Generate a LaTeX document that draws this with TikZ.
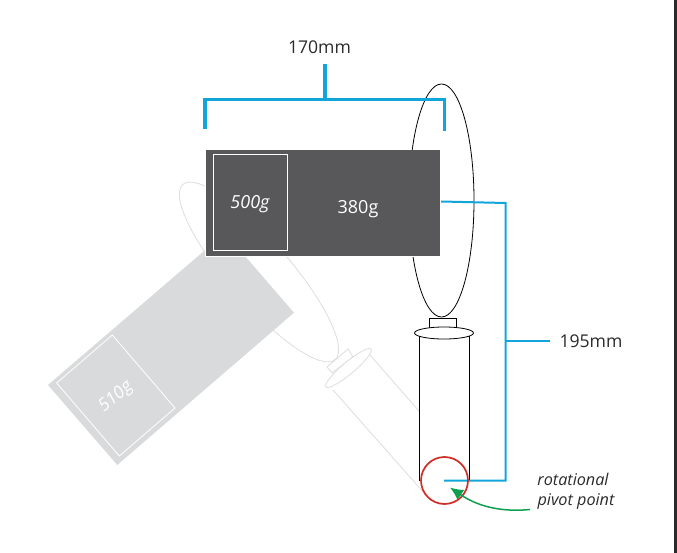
\documentclass[tikz,border=0pt]{standalone}
\usepackage{fontspec}
\setmainfont{Open Sans}
\usetikzlibrary{arrows.meta}
\definecolor{bluec}{HTML}{12A5DC}
\definecolor{darkc}{HTML}{58585A}
\definecolor{greyf}{HTML}{D9DADB}
\definecolor{greyl}{HTML}{DCDDDE}
\definecolor{redc}{HTML}{CF2E27}
\definecolor{greenc}{HTML}{0EA04F}
\definecolor{stripc}{HTML}{2B2B2B}
\definecolor{labelc}{HTML}{2A2A2A}
\tikzset{
  blueline/.style={draw=bluec,line width=2pt},
  bracket/.style={draw=bluec,line width=3.3pt},
  ghost/.style={draw=greyl,line width=.8pt},
  solidpart/.style={draw=black,line width=.8pt,fill=white},
  label/.style={text=labelc,font=\fontsize{17.6}{20}\selectfont,inner sep=0pt},
  onbox/.style={text=white,font=\fontsize{18}{20}\selectfont,inner sep=0pt},
  note/.style={text=labelc,font=\itshape\fontsize{16.2}{18}\selectfont,inner sep=0pt}
}
\begin{document}
\begin{tikzpicture}[x=1pt,y=-1pt]
\useasboundingbox (0,0) rectangle (677,553);
\fill[stripc] (673.5,0) rectangle (677,553);
% rotated (ghost) position
\draw[ghost] (259,272) ellipse[x radius=116,y radius=31,rotate=-49];
\draw[ghost,fill=white] (327,367) -- (348,349) -- (353,357) -- (332,373) -- cycle;
\draw[ghost] (333,390) -- (425,494);
\draw[ghost] (370,355) -- (425,418);
\draw[ghost,fill=white] (348.5,368) ellipse[x radius=29.5,y radius=6,rotate=40];
\fill[greyf] (48,385) -- (117.3,465) -- (294,312.7) -- (225,233) -- cycle;
\draw[white,line width=.8pt] (56.7,383) -- (112.3,335) -- (175,408) -- (119.3,456) -- cycle;
\node[text=white,rotate=40,font=\itshape\fontsize{17.5}{18}\selectfont,inner sep=0pt] (w510) at (116,397) {510g};
% upright position
\draw[solidpart] (441.5,200.5) ellipse[x radius=32.5,y radius=116.5];
\draw[solidpart] (429.5,318) rectangle (456.5,328);
\fill[white] (419.5,333) rectangle (469.5,481);
\draw[draw=black,line width=.8pt] (419.5,333) -- (419.5,481);
\draw[draw=black,line width=.8pt] (469.5,333) -- (469.5,481);
\draw[solidpart] (444,333) ellipse[x radius=29.5,y radius=6];
\fill[white] (205,150) rectangle (206,257);
\fill[white] (205,256) rectangle (440,257);
\fill[darkc] (206,150) rectangle (440,256);
\draw[white,line width=.9pt] (213,154.5) rectangle (287.5,250);
\node[onbox,font=\itshape\fontsize{18}{20}\selectfont] (w500) at (250,204) {500g};
\node[onbox] (w380) at (358,209) {380g};
% dimensions
\coordinate (tl) at (205,129);
\coordinate (tr) at (444.5,131.5);
\coordinate (tlc) at (205,99.5);
\coordinate (trc) at (444.5,99.5);
\coordinate (stemtop) at (325,64);
\coordinate (stembot) at (325,99.5);
\draw[bracket,line width=3.8pt] (tl) -- (tlc);
\draw[bracket,line width=3.8pt] (tr) -- (trc);
\draw[bracket,line cap=rect] (tlc) -- (trc);
\draw[bracket,line width=3.8pt] (stemtop) -- (stembot);
\node[label] (len) at (319.5,47) {170mm};
\node[label] (hgt) at (591,341) {195mm};
\coordinate (a) at (441,201.5);
\coordinate (b) at (505.5,203);
\coordinate (c) at (505.5,480.5);
\coordinate (d) at (444,480.5);
\coordinate (e) at (505.5,341);
\coordinate (f) at (550,341);
\draw[blueline,line join=miter] (a) -- (b) -- (c) -- (d);
\draw[blueline] (e) -- (f);
\coordinate (pv) at (444.5,480.5);
\draw[redc,line width=1.7pt] (pv) circle[radius=23.5];
\node[note] (n1) at (573,479) {rotational};
\node[note] (n2) at (576,501) {pivot point};
\coordinate (gs) at (530,509.5);
\coordinate (gt) at (450,487.5);
\draw[greenc,line width=1.5pt,-{Latex[length=13pt,width=12pt]}] (gs) .. controls (505,512) and (480,508) .. (gt);
\end{tikzpicture}
\end{document}
